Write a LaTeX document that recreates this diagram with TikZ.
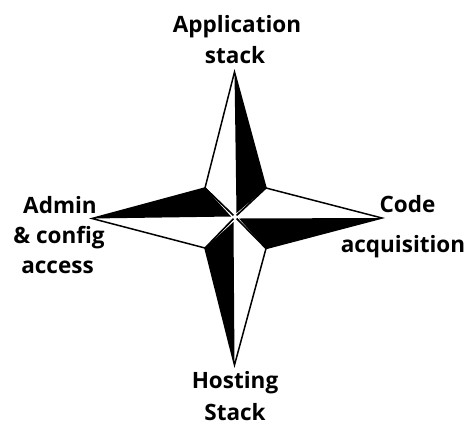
\documentclass[tikz,border=0pt]{standalone}
\usepackage{fontspec}
\setmainfont{Open Sans}
\begin{document}
\begin{tikzpicture}[x=1pt,y=-1pt,
  lbl/.style={font=\fontsize{22.5}{26}\selectfont\bfseries, inner sep=0pt, anchor=base},
  arm/.style={draw=black, line width=1.5pt, line join=miter, fill=white},
  half/.style={fill=black}]
\useasboundingbox[fill=white] (0,0) rectangle (474,440);
% centre, tips, shoulders
\coordinate (C) at (235,217);
\coordinate (T) at (234.5,72);
\coordinate (B) at (234.5,365);
\coordinate (L) at (92,218.5);
\coordinate (R) at (382,218);
\coordinate (TL) at (205,188);
\coordinate (TR) at (266,188);
\coordinate (BL) at (205,248);
\coordinate (BR) at (266,248.5);
% inner ends of the black halves
\coordinate (Ct) at (236.5,213);
\coordinate (Cr) at (239,218.5);
\coordinate (Cb) at (233.5,222);
\coordinate (Cl) at (231,216.5);
% arm outlines
\draw[arm] (T) -- (TL) -- (C) -- (TR) -- cycle;
\draw[arm] (R) -- (TR) -- (C) -- (BR) -- cycle;
\draw[arm] (B) -- (BR) -- (C) -- (BL) -- cycle;
\draw[arm] (L) -- (BL) -- (C) -- (TL) -- cycle;
% black halves
\fill[half] (T) -- (TR) -- (Ct) -- cycle;
\fill[half] (R) -- (BR) -- (Cr) -- cycle;
\fill[half] (B) -- (BL) -- (Cb) -- cycle;
\fill[half] (L) -- (TL) -- (Cl) -- cycle;
% centre gap
\fill[white] (C) circle (2.2pt);
% labels
\node[lbl] (app) at (237,32) {Application};
\node[lbl] (appb) at (235,63) {stack};
\node[lbl] (adm) at (60,213) {Admin};
\node[lbl] (admb) at (59,243) {\& config};
\node[lbl] (admc) at (57.5,273) {access};
\node[lbl] (code) at (407.5,212) {Code};
\node[lbl] (codeb) at (403,252) {acquisition};
\node[lbl] (host) at (235,388) {Hosting};
\node[lbl] (hostb) at (235,420) {Stack};
\end{tikzpicture}
\end{document}
